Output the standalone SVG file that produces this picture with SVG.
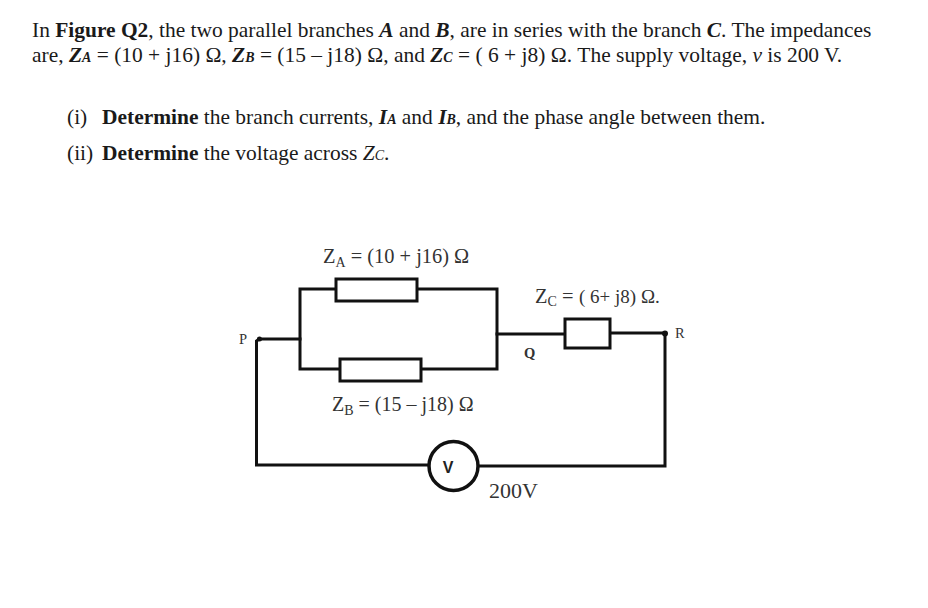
<svg xmlns="http://www.w3.org/2000/svg" width="928" height="608" viewBox="0 0 928 608">
<style>
text{font-family:"Liberation Serif","Times New Roman",serif;fill:#1a1a1a}
.t{font-size:21.450px}
.l{font-size:20.400px;fill:#333}
.s{font-size:14.500px;fill:#333}
.sub{font-size:14px}
.b{font-weight:bold}
.bi{font-weight:bold;font-style:italic}
.i{font-style:italic}
.w{fill:none;stroke:#111;stroke-width:3;stroke-linecap:square}
.box{fill:#fff;stroke:#111;stroke-width:3}
</style>
<rect width="928" height="608" fill="#fff"/>
<g id="question">
<text class="t" x="32" y="37">In <tspan class="b">Figure Q2</tspan>, the two parallel branches <tspan class="bi">A</tspan> and <tspan class="bi">B</tspan>, are in series with the branch <tspan class="bi">C</tspan>. The impedances</text>
<text class="t" x="32" y="62">are, <tspan class="bi">Z<tspan class="sub">A</tspan></tspan> = (10 + j16) Ω, <tspan class="bi">Z<tspan class="sub">B</tspan></tspan> = (15 – j18) Ω, and <tspan class="bi">Z<tspan class="sub">C</tspan></tspan> = ( 6 + j8) Ω. The supply voltage, <tspan class="i">v</tspan> is 200 V.</text>
<text class="t" x="67" y="124">(i)</text>
<text class="t" x="102" y="124"><tspan class="b">Determine</tspan> the branch currents, <tspan class="bi">I<tspan class="sub">A</tspan></tspan> and <tspan class="bi">I<tspan class="sub">B</tspan></tspan>, and the phase angle between them.</text>
<text class="t" x="67" y="160">(ii)</text>
<text class="t" x="102" y="160"><tspan class="b">Determine</tspan> the voltage across <tspan class="i">Z<tspan class="sub">C</tspan></tspan>.</text>
</g>
<g id="connectors">
<path class="w" d="M336 289H300V369H340"/>
<path class="w" d="M417 289H497V369H421"/>
<path class="w" d="M259 339H300"/>
<path class="w" d="M497 334H564"/>
<path class="w" d="M610 333H665V466H480"/>
<path class="w" d="M427 465H256.500V341L259 339"/>
</g>
<g id="node-za">
<rect class="box" x="336" y="279" width="81" height="22"/>
<text class="l" x="323" y="263">Z<tspan class="sub" dy="4">A</tspan><tspan dy="-4"> = (10 + j16) Ω</tspan></text>
</g>
<g id="node-zb">
<rect class="box" x="340" y="359" width="81" height="22"/>
<text class="l" x="332" y="411" style="font-size:20px">Z<tspan class="sub" dy="4">B</tspan><tspan dy="-4"> = (15 – j18) Ω</tspan></text>
</g>
<g id="node-zc">
<rect class="box" x="565" y="319" width="45" height="29"/>
<text class="l" x="535" y="303">Z<tspan class="sub" dy="3">C</tspan><tspan dy="-3"> =</tspan><tspan x="579" style="font-size:19px">( 6+ j8) Ω.</tspan></text>
</g>
<g id="node-p">
<circle cx="259.500" cy="339" r="2.500" fill="#111"/>
<text class="s" x="239" y="344">P</text>
</g>
<g id="node-q">
<text class="s" x="524" y="358" font-weight="bold">Q</text>
</g>
<g id="node-r">
<circle cx="665" cy="333.500" r="3" fill="#111"/>
<text class="s" x="675" y="338">R</text>
</g>
<g id="node-v">
<circle cx="453.500" cy="466" r="24.500" fill="#fff" stroke="#111" stroke-width="3.500"/>
<text x="448" y="473" text-anchor="middle" font-weight="bold" style="font-family:'Liberation Sans',Arial,sans-serif;font-size:16px;fill:#222">V</text>
<text class="l" x="489" y="498" style="font-size:22px">200V</text>
</g>
</svg>
